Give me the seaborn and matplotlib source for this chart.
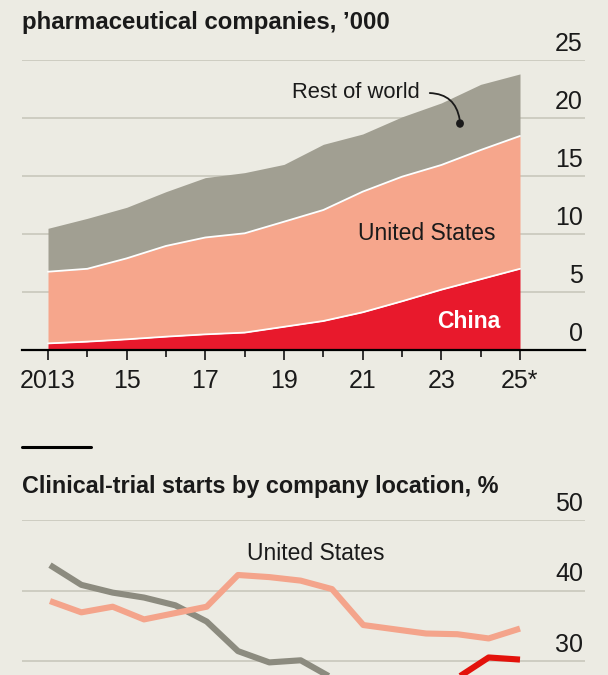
import matplotlib
matplotlib.use("Agg")
import matplotlib.pyplot as plt
import seaborn as sns
import numpy as np
import pandas as pd

# ---------------- data ----------------
years = [2013, 2014, 2015, 2016, 2017, 2018, 2019, 2020, 2021, 2022, 2023, 2024, 2025]
china = [0.57, 0.72, 0.92, 1.15, 1.35, 1.5, 2.0, 2.5, 3.25, 4.2, 5.2, 6.1, 7.0]
united_states = [6.18, 6.28, 6.98, 7.82, 8.35, 8.56, 9.06, 9.57, 10.4, 10.74, 10.75, 11.14, 11.45]
rest_of_world = [3.74, 4.35, 4.4, 4.68, 5.16, 5.23, 4.94, 5.66, 4.97, 5.16, 5.35, 5.66, 5.35]
x_ticklabels = ["2013", "15", "17", "19", "21", "23", "25*"]
y_ticks_top = [0, 5, 10, 15, 20, 25]

trial_years = list(range(2010, 2026))
trial_us = [38.5, 36.9, 37.7, 35.9, 36.8, 37.7, 42.2, 41.9, 41.4, 40.2, 35.1, 34.5, 33.9, 33.8, 33.2, 34.6]
trial_row = [43.6, 40.8, 39.7, 39.0, 37.9, 35.6, 31.4, 29.8, 30.1, 27.6, 26.0, 25.0, 24.0, 23.0, 22.0, 21.5]
trial_china = [5.0, 6.0, 7.0, 8.0, 9.0, 10.0, 12.0, 13.0, 15.0, 17.0, 20.0, 23.0, 25.5, 27.6, 30.5, 30.2]
y_ticks_bottom = [30, 40, 50]

# ---------------- style ----------------
BG = "#ECEBE3"
GRID = "#C9C7BC"
C_ROW = "#A19F92"
C_US = "#F6A68C"
C_CN = "#E8192C"
L_ROW = "#8C8B7F"
L_US = "#F4A48B"
L_CN = "#E3120B"
TXT = "#1A1A1A"
TICK_FS = 18

sns.set_theme(style="white")
plt.rcParams["font.family"] = ["Liberation Sans", "DejaVu Sans"]
plt.rcParams["figure.facecolor"] = BG
plt.rcParams["axes.facecolor"] = BG

W, H = 608, 675
fig = plt.figure(figsize=(W / 100, H / 100), dpi=100)
fig.patch.set_facecolor(BG)


def frac(x0, y_top, x1, y_bot):
    return [x0 / W, 1 - y_bot / H, (x1 - x0) / W, (y_bot - y_top) / H]


def px(x, y):
    return (x, H - y)


# ---------------- top chart ----------------
ax1 = fig.add_axes(frac(22, 60, 585, 350))
ax1.set_facecolor(BG)
px_year = (520 - 48) / 12.0
ax1.set_xlim(2013 - 26 / px_year, 2025 + 65 / px_year)
ax1.set_ylim(0, 25)

for v in y_ticks_top[1:]:
    ax1.axhline(v, color=GRID, lw=1.2, zorder=0)

yr = np.array(years, dtype=float)
c = np.array(china)
u = c + np.array(united_states)
t = u + np.array(rest_of_world)
ax1.fill_between(yr, 0, c, color=C_CN, lw=0, zorder=2)
ax1.fill_between(yr, c, u, color=C_US, lw=0, zorder=2)
ax1.fill_between(yr, u, t, color=C_ROW, lw=0, zorder=2)

bounds = pd.DataFrame({"year": np.concatenate([yr, yr]),
                       "value": np.concatenate([c, u]),
                       "line": ["c"] * len(yr) + ["u"] * len(yr)})
sns.lineplot(data=bounds, x="year", y="value", units="line", estimator=None,
             color="white", lw=1.3, ax=ax1, zorder=3)

for s in ["top", "left", "right"]:
    ax1.spines[s].set_visible(False)
ax1.spines["bottom"].set_color("black")
ax1.spines["bottom"].set_linewidth(1.6)
ax1.spines["bottom"].set_zorder(5)
ax1.set_yticks([])
ax1.set_xticks(years[::2])
ax1.set_xticklabels(x_ticklabels)
ax1.set_xticks(years[1::2], minor=True)
ax1.tick_params(axis="x", which="major", length=7.5, width=1.1, color="black",
                pad=6, labelsize=TICK_FS, labelcolor=TXT, bottom=True)
ax1.tick_params(axis="x", which="minor", length=4.8, width=1.1, color="black", bottom=True)
ax1.set_xlabel("")
ax1.set_ylabel("")

for v in y_ticks_top:
    ax1.annotate(str(v), xy=(1, v), xycoords=("axes fraction", "data"),
                 xytext=(-1.5, 3), textcoords="offset points",
                 ha="right", va="bottom", fontsize=TICK_FS, color=TXT)

ax1.annotate("Rest of world", xy=px(420, 92), xycoords="figure pixels",
             ha="right", va="center", fontsize=15.8, color=TXT)
ax1.annotate("", xy=px(460, 122), xycoords="figure pixels",
             xytext=px(427, 93), textcoords="figure pixels",
             arrowprops=dict(arrowstyle="-", color=TXT, lw=1.3,
                             connectionstyle="arc3,rad=-0.45"))
fig.add_artist(plt.Circle((460 / W, 1 - 123.5 / H), 3.2 / W, transform=fig.transFigure,
                          color=TXT))
ax1.annotate("United States", xy=px(427, 234), xycoords="figure pixels",
             ha="center", va="center", fontsize=16.5, color=TXT)
ax1.annotate("China", xy=px(469, 322), xycoords="figure pixels",
             ha="center", va="center", fontsize=16.5, color="white", fontweight="bold")

fig.text(22 / W, 1 - 29 / H, "pharmaceutical companies, \u2019000", ha="left",
         va="baseline", fontsize=17.3, fontweight="bold", color=TXT)

# ---------------- bottom chart ----------------
rule = plt.Line2D([22 / W, 91 / W], [1 - 447 / H, 1 - 447 / H], transform=fig.transFigure,
                  color="black", lw=2.2)
fig.add_artist(rule)
fig.text(22 / W, 1 - 493 / H, "Clinical-trial starts by company location, %", ha="left",
         va="baseline", fontsize=16.8, fontweight="bold", color=TXT)

ax2 = fig.add_axes(frac(22, 520, 585, 872.5))
ax2.set_facecolor(BG)
ax2.patch.set_alpha(0)
px_y2 = (520 - 50) / 15.0
ax2.set_xlim(2010 - 28 / px_y2, 2025 + 65 / px_y2)
ax2.set_ylim(0, 50)
for v in y_ticks_bottom:
    ax2.axhline(v, color=GRID, lw=1.2, zorder=0)
    ax2.annotate(str(v), xy=(1, v), xycoords=("axes fraction", "data"),
                 xytext=(-1.5, 3), textcoords="offset points",
                 ha="right", va="bottom", fontsize=TICK_FS, color=TXT)

trials = pd.DataFrame({
    "year": trial_years * 3,
    "share": trial_row + trial_us + trial_china,
    "region": ["Rest of world"] * 16 + ["United States"] * 16 + ["China"] * 16,
})
sns.lineplot(data=trials, x="year", y="share", hue="region",
             palette={"Rest of world": L_ROW, "United States": L_US, "China": L_CN},
             lw=4.4, ax=ax2, legend=False, zorder=3)
for ln in ax2.lines:
    ln.set_solid_capstyle("butt")
    ln.set_solid_joinstyle("round")
for s in ax2.spines.values():
    s.set_visible(False)
ax2.set_xticks([])
ax2.set_yticks([])
ax2.set_xlabel("")
ax2.set_ylabel("")
ax2.annotate("United States", xy=px(316, 554), xycoords="figure pixels",
             ha="center", va="center", fontsize=16.5, color=TXT)

fig.savefig("out.png", dpi=100, facecolor=BG)
